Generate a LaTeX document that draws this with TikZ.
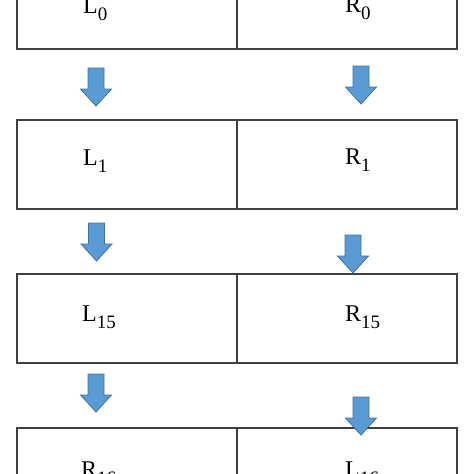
\documentclass[tikz,border=0pt]{standalone}
\usepackage{fontspec}
\setmainfont{Liberation Serif}
\definecolor{boxline}{HTML}{404040}
\definecolor{arrfill}{HTML}{5B9BD5}
\definecolor{arrline}{HTML}{41719C}
\newcommand{\lsub}[1]{\raisebox{-7.5pt}{\fontsize{19}{22}\selectfont #1}}
\begin{document}
\begin{tikzpicture}[x=1pt,y=-1pt,
  cell/.style={draw=boxline,line width=1.4pt,minimum width=220pt,minimum height=89pt,inner sep=0pt,outer sep=0pt},
  lbl/.style={anchor=base west,inner sep=0pt,font=\fontsize{24}{28}\selectfont},
  blockarrow/.pic={\path[fill=arrfill,draw=arrline,line width=0.8pt,line join=miter]
     (-8,0) -- (8,0) -- (8,21) -- (15.5,21) -- (0,38) -- (-15.5,21) -- (-8,21) -- cycle;}]
\useasboundingbox (0,0) rectangle (474,474);
\clip (0,0) rectangle (474,474);
% rows of cells
\node[cell] (c0l) at (127,4.5) {};
\node[cell] (c0r) at (347,4.5) {};
\node[cell] (c1l) at (127,164.5) {};
\node[cell] (c1r) at (347,164.5) {};
\node[cell] (c2l) at (127,318.5) {};
\node[cell] (c2r) at (347,318.5) {};
\node[cell] (c3l) at (127,472.5) {};
\node[cell] (c3r) at (347,472.5) {};
% labels
\node[lbl] (t0l) at (83,13) {L\lsub{0}};
\node[lbl] (t0r) at (345,12) {R\lsub{0}};
\node[lbl] (t1l) at (83,165) {L\lsub{1}};
\node[lbl] (t1r) at (345,164) {R\lsub{1}};
\node[lbl] (t2l) at (82,321) {L\lsub{15}};
\node[lbl] (t2r) at (345,321) {R\lsub{15}};
\node[lbl] (t3l) at (81,477) {R\lsub{16}};
\node[lbl] (t3r) at (345,477) {L\lsub{16}};
% block arrows
\pic (a0l) at (96,68) {blockarrow};
\pic (a0r) at (361,66) {blockarrow};
\pic (a1l) at (96.5,223) {blockarrow};
\pic (a1r) at (353,235) {blockarrow};
\pic (a2l) at (96,374) {blockarrow};
\pic (a2r) at (361,397) {blockarrow};
\end{tikzpicture}
\end{document}
